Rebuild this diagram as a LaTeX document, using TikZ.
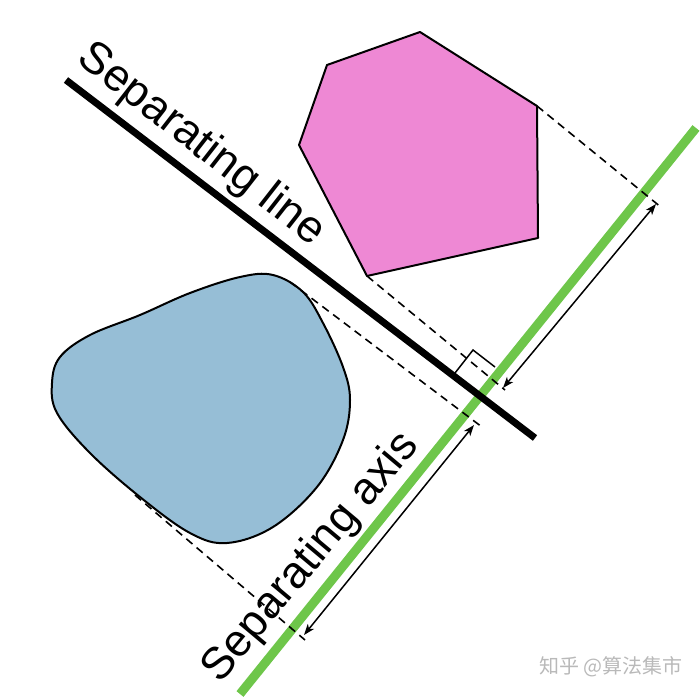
\documentclass[tikz,border=0pt]{standalone}
\usepackage{fontspec}
\setmainfont{Liberation Sans}
\newfontfamily\cjk{Noto Sans CJK SC}
\usetikzlibrary{arrows.meta}
\definecolor{pinkfill}{RGB}{238,136,212}
\definecolor{bluefill}{RGB}{150,190,214}
\definecolor{axisgreen}{RGB}{110,198,74}
\definecolor{wmgray}{RGB}{185,185,185}
\begin{document}
\begin{tikzpicture}[x=1pt,y=-1pt,
  outlined/.style={draw=black,line width=2pt,line join=round},
  projline/.style={dash pattern=on 8pt off 5.5pt,line width=1.6pt},
  measure/.style={line width=1.5pt,{Stealth[length=11pt,width=8pt,inset=3pt]}-{Stealth[length=11pt,width=8pt,inset=3pt]}},
  biglabel/.style={font=\fontsize{45}{50}\selectfont,inner sep=0pt}]
\useasboundingbox (0,0) rectangle (700,700);
% blob
\draw[outlined,fill=bluefill] plot[smooth cycle,tension=0.6] coordinates {
 (52,383) (60,357) (90,335) (140,315) (190,293) (240,277) (273,275) (303,292)
 (323,323) (343,367) (350,400) (343,440) (317,487) (273,527) (227,543)
 (190,533) (140,497) (90,453) (57,413)};
% polygon
\coordinate (p1) at (327,65);
\coordinate (p2) at (420,32);
\coordinate (p3) at (537,106);
\coordinate (p4) at (538,238);
\coordinate (p5) at (367,276);
\coordinate (p6) at (299,145);
\draw[outlined,fill=pinkfill] (p1) -- (p2) -- (p3) -- (p4) -- (p5) -- (p6) -- cycle;
% axis and separating line
\coordinate (ga) at (240,694);
\coordinate (gb) at (696,128);
\coordinate (la) at (66,80);
\coordinate (lb) at (535,438);
\draw[axisgreen,line width=9pt] (ga) -- (gb);
\draw[black,line width=7pt] (la) -- (lb);
% projection lines
\coordinate (d1) at (662,208);
\coordinate (d2) at (505,390);
\coordinate (b1) at (290,282);
\coordinate (d3) at (482,427);
\coordinate (b2) at (135,495);
\coordinate (d4) at (305,640);
\draw[projline] (p3) -- (d1);
\draw[projline] (p5) -- (d2);
\draw[projline] (b1) -- (d3);
\draw[projline] (b2) -- (d4);
% measurements
\coordinate (m1) at (503,388);
\coordinate (m2) at (656,204);
\coordinate (m3) at (474,425);
\coordinate (m4) at (304,635);
\draw[measure] (m1) -- (m2);
\draw[measure] (m3) -- (m4);
% right angle mark
\coordinate (r1) at (455,373);
\coordinate (r2) at (473,350);
\coordinate (r3) at (495,367);
\draw[line width=1.5pt] (r1) -- (r2) -- (r3);
% labels
\node[biglabel,rotate=-38] (tline) at (201,145) {Separating line};
\node[biglabel,rotate=50] (taxis) at (311,558) {Separating axis};
\node[font=\cjk\fontsize{20}{22}\selectfont,text=wmgray,inner sep=0pt] (wm) at (611,667) {知乎 @算法集市};
\end{tikzpicture}
\end{document}
